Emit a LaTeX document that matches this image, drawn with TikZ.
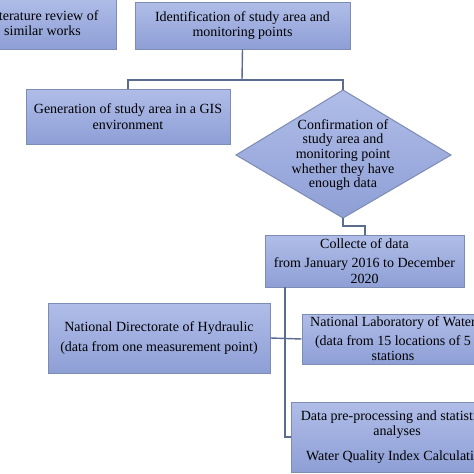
\documentclass[tikz,border=0pt]{standalone}
\usepackage{fontspec}
\setmainfont{Liberation Serif}
\begin{document}
\begin{tikzpicture}[x=1pt,y=-1pt,
  box/.style={draw=boxedge, line width=1pt, top color=boxtop, bottom color=boxbot,
     rectangle, inner sep=0pt, align=center, font=\fontsize{14}{15.5}\selectfont},
  txt/.style={inner sep=0pt, align=center, font=\fontsize{14}{14.6}\selectfont},
  link/.style={draw=linkc, line width=1.4pt}]
\definecolor{boxtop}{HTML}{B0BDE8}
\definecolor{boxbot}{HTML}{8E9FD6}
\definecolor{boxedge}{HTML}{7D8CB3}
\definecolor{linkc}{HTML}{5A6C90}
\useasboundingbox (0,0) rectangle (474,474);
\clip (0,0) rectangle (474,474);
\fill[white] (0,0) rectangle (474,474);
% boxes
\node[box, minimum width=147pt, minimum height=52pt] (lit) at (42.5,23) {Literature review of\\similar works};
\node[box, minimum width=215pt, minimum height=47pt] (ident) at (242.5,25.5) {Identification of study area and\\monitoring points};
\node[box, minimum width=204pt, minimum height=55pt] (gen) at (128,116.5) {Generation of study area in a GIS\\environment};
\path[draw=boxedge, line width=1pt, top color=boxtop, bottom color=boxbot]
  (343,90) coordinate (dT) -- (451,155) coordinate (dR) -- (343,218) coordinate (dB) -- (236,155) coordinate (dL) -- cycle;
\node[txt] (conf) at (343,155) {Confirmation of\\study area and\\monitoring point\\whether they have\\enough data};
\node[box, minimum width=199pt, minimum height=52pt] (coll) at (364.5,261) {Collecte of data\\[4pt]from January 2016 to December\\2020};
\node[box, minimum width=222pt, minimum height=70pt] (natdir) at (159,338) {National Directorate of Hydraulic\\[4pt](data from one measurement point)};
\node[box, minimum width=182pt, minimum height=50pt] (natlab) at (393,339) {National Laboratory of Water\\[3pt](data from 15 locations of 5\\stations};
\node[box, minimum width=212pt, minimum height=70pt] (data) at (397,437) {Data pre-processing and statistical\\analyses\\[9pt]Water Quality Index Calculation};
% connectors
\coordinate (j1) at (242,80);
\draw[link] (ident.south) -- (j1);
\draw[link] (gen.north) |- (j1) -| (dT);
\coordinate (j2) at (343,226);
\coordinate (j3) at (365,226);
\draw[link] (dB) -- (j2) -- (j3) -- (coll.north -| j3);
\coordinate (c1) at (285,287);
\coordinate (c3) at (285,437);
\draw[link] (c1) -- (c3) -- (data.west);
\draw[link] (natdir.east) -- (natlab.west);
\end{tikzpicture}
\end{document}
